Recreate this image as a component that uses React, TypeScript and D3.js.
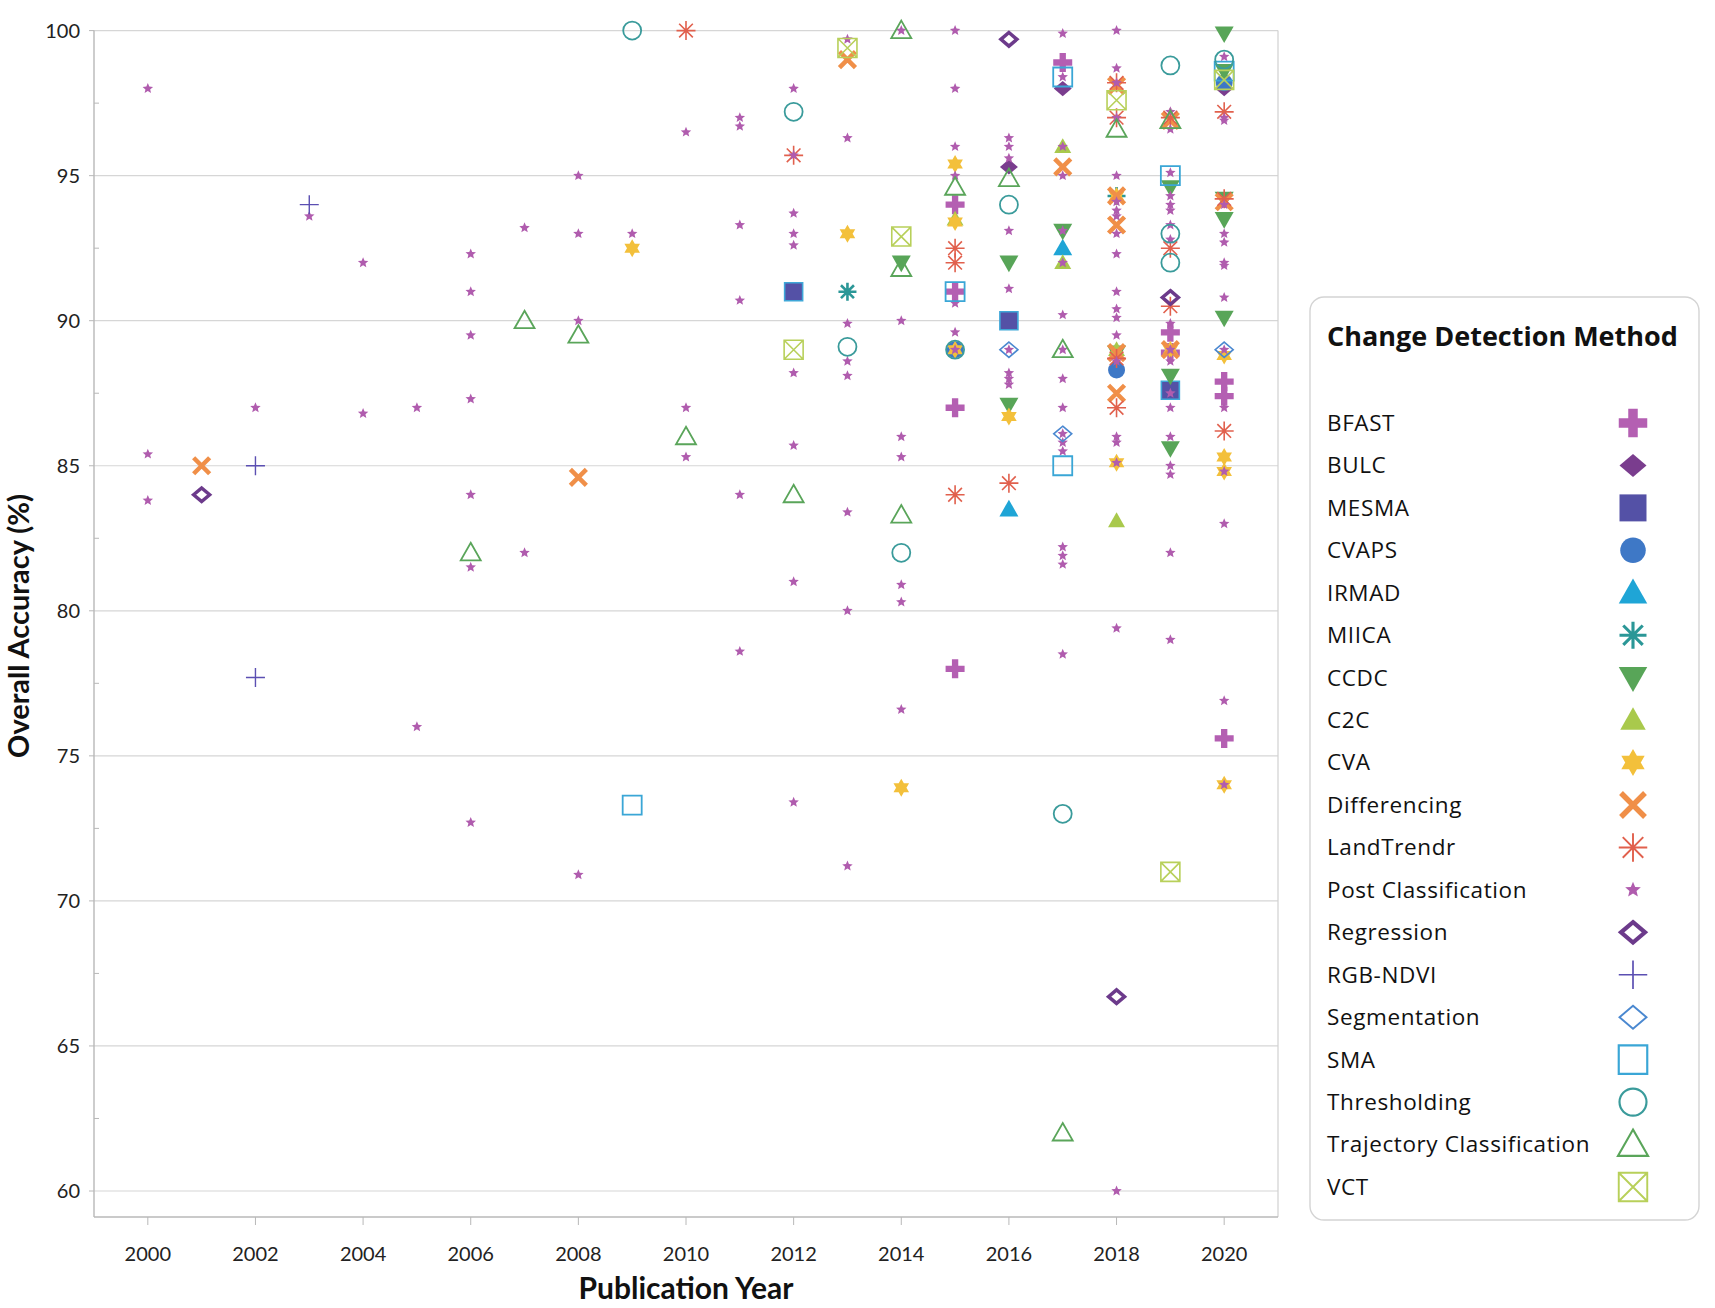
import React from "react";
import * as d3 from "d3";

// legend order (also the draw order, later series sit on top)
const METHODS = [
  "BFAST", "BULC", "MESMA", "CVAPS", "IRMAD", "MIICA", "CCDC", "C2C", "CVA",
  "Differencing", "LandTrendr", "Post Classification", "Regression", "RGB-NDVI",
  "Segmentation", "SMA", "Thresholding", "Trajectory Classification", "VCT",
];

const X_TICKS = [2000, 2002, 2004, 2006, 2008, 2010, 2012, 2014, 2016, 2018, 2020];
const Y_TICKS = [60, 65, 70, 75, 80, 85, 90, 95, 100];
const Y_MINOR = [62.5, 67.5, 72.5, 77.5, 82.5, 87.5, 92.5, 97.5];

// [publication year, overall accuracy %]
const bfast: [number, number][] = [
  [2015, 94.0], [2015, 91.0], [2015, 87.0], [2015, 78.0], [2017, 98.9],
  [2019, 89.6], [2019, 88.9], [2020, 87.9], [2020, 87.4], [2020, 75.6],
];
const bulc: [number, number][] = [[2016, 95.3], [2017, 98.0], [2020, 98.0]];
const mesma: [number, number][] = [[2012, 91.0], [2016, 90.0], [2019, 87.6]];
const cvaps: [number, number][] = [[2015, 89.0], [2018, 88.3], [2020, 98.2]];
const irmad: [number, number][] = [[2016, 83.5], [2017, 92.5]];
const miica: [number, number][] = [[2013, 91.0], [2018, 94.3]];
const ccdc: [number, number][] = [
  [2014, 92.0], [2016, 92.0], [2016, 87.1], [2017, 93.1], [2018, 88.9],
  [2019, 94.6], [2019, 88.1], [2019, 85.6], [2020, 99.9], [2020, 98.6],
  [2020, 94.2], [2020, 93.5], [2020, 90.1],
];
const c2c: [number, number][] = [
  [2015, 93.5], [2017, 96.0], [2017, 92.0], [2018, 89.0], [2018, 83.1],
];
const cva: [number, number][] = [
  [2009, 92.5], [2013, 93.0], [2014, 73.9], [2015, 95.4], [2015, 93.4],
  [2015, 89.0], [2016, 86.7], [2018, 94.3], [2018, 85.1], [2019, 89.0],
  [2020, 88.8], [2020, 85.3], [2020, 84.8], [2020, 74.0],
];
const differencing: [number, number][] = [
  [2001, 85.0], [2008, 84.6], [2013, 99.0], [2017, 95.3], [2018, 98.1],
  [2018, 94.3], [2018, 93.3], [2018, 88.9], [2018, 87.5], [2019, 96.9],
  [2019, 89.0], [2020, 94.1],
];
const landTrendr: [number, number][] = [
  [2010, 100.0], [2012, 95.7], [2015, 92.5], [2015, 92.0], [2015, 84.0],
  [2016, 84.4], [2018, 98.2], [2018, 97.0], [2018, 88.7], [2018, 87.0],
  [2019, 97.0], [2019, 92.5], [2019, 90.5], [2020, 97.2], [2020, 94.2],
  [2020, 86.2],
];
const postClassification: [number, number][] = [
  [2000, 98.0], [2000, 85.4], [2000, 83.8],
  [2002, 87.0], [2003, 93.6], [2004, 92.0], [2004, 86.8], [2005, 87.0], [2005, 76.0],
  [2006, 92.3], [2006, 91.0], [2006, 89.5], [2006, 87.3], [2006, 84.0], [2006, 81.5], [2006, 72.7],
  [2007, 93.2], [2007, 82.0],
  [2008, 95.0], [2008, 93.0], [2008, 90.0], [2008, 70.9],
  [2009, 93.0],
  [2010, 96.5], [2010, 87.0], [2010, 85.3],
  [2011, 97.0], [2011, 96.7], [2011, 93.3], [2011, 90.7], [2011, 84.0], [2011, 78.6],
  [2012, 98.0], [2012, 95.7], [2012, 93.7], [2012, 93.0], [2012, 92.6], [2012, 88.2],
  [2012, 85.7], [2012, 81.0], [2012, 73.4],
  [2013, 99.7], [2013, 96.3], [2013, 89.9], [2013, 88.6], [2013, 88.1], [2013, 83.4],
  [2013, 80.0], [2013, 71.2],
  [2014, 100.0], [2014, 90.0], [2014, 86.0], [2014, 85.3], [2014, 80.9], [2014, 80.3], [2014, 76.6],
  [2015, 100.0], [2015, 98.0], [2015, 96.0], [2015, 95.0], [2015, 90.6], [2015, 89.6], [2015, 89.0],
  [2016, 96.3], [2016, 96.0], [2016, 95.6], [2016, 93.1], [2016, 91.1], [2016, 89.0],
  [2016, 88.2], [2016, 88.0], [2016, 87.8],
  [2017, 99.9], [2017, 98.4], [2017, 96.0], [2017, 95.0], [2017, 93.1], [2017, 92.0],
  [2017, 90.2], [2017, 89.0], [2017, 88.0], [2017, 87.0], [2017, 86.1], [2017, 85.8],
  [2017, 85.5], [2017, 82.2], [2017, 81.9], [2017, 81.6], [2017, 78.5],
  [2018, 100.0], [2018, 98.7], [2018, 98.2], [2018, 97.0], [2018, 95.0], [2018, 94.1],
  [2018, 93.8], [2018, 93.6], [2018, 93.0], [2018, 92.3], [2018, 91.0], [2018, 90.4],
  [2018, 90.1], [2018, 89.5], [2018, 88.6], [2018, 86.0], [2018, 85.8], [2018, 85.1],
  [2018, 79.4], [2018, 60.0],
  [2019, 97.2], [2019, 96.6], [2019, 95.1], [2019, 94.3], [2019, 94.0], [2019, 93.8],
  [2019, 93.3], [2019, 92.8], [2019, 89.9], [2019, 89.0], [2019, 88.6], [2019, 87.5],
  [2019, 87.0], [2019, 86.0], [2019, 85.0], [2019, 84.7], [2019, 82.0], [2019, 79.0],
  [2020, 99.1], [2020, 97.0], [2020, 96.9], [2020, 94.0], [2020, 93.0], [2020, 92.7],
  [2020, 92.0], [2020, 91.9], [2020, 90.8], [2020, 89.0], [2020, 87.0], [2020, 84.8],
  [2020, 83.0], [2020, 76.9], [2020, 74.0],
];
const regression: [number, number][] = [
  [2001, 84.0], [2016, 99.7], [2018, 66.7], [2019, 90.8],
];
const rgbNdvi: [number, number][] = [[2002, 85.0], [2002, 77.7], [2003, 94.0]];
const segmentation: [number, number][] = [[2016, 89.0], [2017, 86.1], [2020, 89.0]];
const sma: [number, number][] = [
  [2009, 73.3], [2015, 91.0], [2017, 98.4], [2017, 85.0], [2019, 95.0], [2020, 98.6],
];
const thresholding: [number, number][] = [
  [2009, 100.0], [2012, 97.2], [2013, 89.1], [2014, 82.0], [2015, 89.0], [2016, 94.0],
  [2017, 73.0], [2019, 98.8], [2019, 93.0], [2019, 92.0], [2020, 99.0],
];
const trajectory: [number, number][] = [
  [2006, 82.0], [2007, 90.0], [2008, 89.5], [2010, 86.0], [2012, 84.0], [2014, 100.0],
  [2014, 91.8], [2014, 83.3], [2015, 94.6], [2016, 94.9], [2017, 89.0], [2017, 62.0],
  [2018, 96.6], [2019, 96.9],
];
const vct: [number, number][] = [
  [2012, 89.0], [2013, 99.4], [2014, 92.9], [2018, 97.6], [2019, 71.0], [2020, 98.3],
];

const SERIES_DATA = [
  bfast, bulc, mesma, cvaps, irmad, miica, ccdc, c2c, cva, differencing, landTrendr,
  postClassification, regression, rgbNdvi, segmentation, sma, thresholding, trajectory, vct,
];

type Style = { kind: string; color: string; s: number; sw?: number; edge?: string };

const STYLES: Style[] = [
  { kind: "plusFill", color: "#b45fb2", s: 9.5 },
  { kind: "diamondFill", color: "#7a3d8e", s: 9 },
  { kind: "squareFill", color: "#5451a6", s: 9, edge: "#3fa7d8" },
  { kind: "circleFill", color: "#3e78c6", s: 8.5 },
  { kind: "triUpFill", color: "#1fa5d6", s: 9.5 },
  { kind: "asterisk", color: "#2b9797", s: 9, sw: 2.6 },
  { kind: "triDownFill", color: "#58a558", s: 9.5 },
  { kind: "triUpFill", color: "#a9c94c", s: 8.5 },
  { kind: "star6", color: "#f3c03b", s: 9 },
  { kind: "xThick", color: "#f08f48", s: 8, sw: 4.5 },
  { kind: "asterisk", color: "#e1604d", s: 9.5, sw: 1.6 },
  { kind: "star5", color: "#b05cae", s: 5.5 },
  { kind: "diamondStroke", color: "#6c3a8b", s: 8, sw: 3.5 },
  { kind: "plusThin", color: "#5b4fb2", s: 9.5, sw: 1.4 },
  { kind: "diamondStroke", color: "#4a88d0", s: 9, sw: 1.6 },
  { kind: "squareStroke", color: "#3aa6d6", s: 9.5, sw: 1.8 },
  { kind: "circleStroke", color: "#3a9b9b", s: 9, sw: 1.8 },
  { kind: "triUpStroke", color: "#5aa55a", s: 10, sw: 1.8 },
  { kind: "squareX", color: "#b8d05a", s: 9.5, sw: 1.6 },
];

function markerPath(kind: string, s: number): string {
  if (kind === "plusFill") {
    const a = s / 3;
    return `M${-a},${-s}H${a}V${-a}H${s}V${a}H${a}V${s}H${-a}V${a}H${-s}V${-a}H${-a}Z`;
  }
  if (kind === "plusThin") return `M${-s},0H${s}M0,${-s}V${s}`;
  if (kind.startsWith("diamond")) return `M0,${-s * 0.85}L${s},0L0,${s * 0.85}L${-s},0Z`;
  if (kind === "squareFill" || kind === "squareStroke") return `M${-s},${-s}H${s}V${s}H${-s}Z`;
  if (kind === "squareX")
    return `M${-s},${-s}H${s}V${s}H${-s}ZM${-s},${-s}L${s},${s}M${-s},${s}L${s},${-s}`;
  if (kind.startsWith("circle")) return `M${s},0A${s},${s},0,1,1,${-s},0A${s},${s},0,1,1,${s},0Z`;
  if (kind.startsWith("triUp")) return `M0,${-s}L${s},${s * 0.75}L${-s},${s * 0.75}Z`;
  if (kind === "triDownFill") return `M0,${s}L${s},${-s * 0.75}L${-s},${-s * 0.75}Z`;
  if (kind === "xThick") return `M${-s},${-s}L${s},${s}M${-s},${s}L${s},${-s}`;
  if (kind === "asterisk") {
    const d = s * 0.72;
    return `M${-s},0H${s}M0,${-s}V${s}M${-d},${-d}L${d},${d}M${-d},${d}L${d},${-d}`;
  }
  if (kind === "star6") {
    const tri = (start: number) =>
      d3.range(3).map((i) => {
        const a = ((start + i * 120) * Math.PI) / 180;
        return `${i === 0 ? "M" : "L"}${s * Math.cos(a)},${s * Math.sin(a)}`;
      }).join("") + "Z";
    return tri(-90) + tri(90);
  }
  // star5
  return d3.range(10).map((i) => {
    const r = i % 2 === 0 ? s : s * 0.45;
    const a = -Math.PI / 2 + (i * Math.PI) / 5;
    return `${i === 0 ? "M" : "L"}${r * Math.cos(a)},${r * Math.sin(a)}`;
  }).join("") + "Z";
}

const STROKED = ["plusThin", "diamondStroke", "squareStroke", "squareX", "circleStroke",
  "triUpStroke", "xThick", "asterisk"];

function Marker({ st, x, y, k = 1, legend = false }: { st: Style; x: number; y: number; k?: number; legend?: boolean }) {
  const d = markerPath(st.kind, st.s * k);
  const stroked = STROKED.includes(st.kind);
  return (
    <path
      d={d}
      transform={`translate(${x},${y})`}
      fill={stroked ? "none" : st.color}
      stroke={stroked ? st.color : !legend && st.edge ? st.edge : "none"}
      strokeWidth={stroked ? (st.sw ?? 1.5) * (k > 1 ? 1.2 : 1) : 1.6}
    />
  );
}

const W = 1715;
const H = 1308;
const FONT = "Lato, 'Open Sans', sans-serif";
const LEGEND_FONT = "'Open Sans', Lato, sans-serif";

export default function App() {
  const plot = { left: 94, right: 1278, top: 30.6, bottom: 1217 };
  const x = d3.scaleLinear().domain([1999, 2021]).range([plot.left, plot.right]);
  const y = d3.scaleLinear().domain([60, 100]).range([1191, 30.6]);

  const legend = { x: 1310, y: 297, w: 389, h: 923 };
  const rowY = d3.scaleLinear().domain([0, METHODS.length - 1]).range([423, 1187]);

  return (
    <svg width={W} height={H} style={{ position: "absolute", left: 0, top: 0, background: "#fff" }}
      fontFamily={FONT}>
      {/* gridlines */}
      {Y_TICKS.map((t) => (
        <line key={t} x1={plot.left} x2={plot.right} y1={y(t)} y2={y(t)} stroke="#d6d6d6" strokeWidth={1.2} />
      ))}
      {/* frame */}
      <line x1={plot.right} x2={plot.right} y1={plot.top} y2={plot.bottom} stroke="#d0d0d0" strokeWidth={1.2} />
      <line x1={plot.left} x2={plot.left} y1={plot.top} y2={plot.bottom} stroke="#b8b8b8" strokeWidth={1.4} />
      <line x1={plot.left} x2={plot.right} y1={plot.bottom} y2={plot.bottom} stroke="#b8b8b8" strokeWidth={1.4} />
      {Y_MINOR.map((t) => (
        <line key={t} x1={plot.left} x2={plot.left + 5} y1={y(t)} y2={y(t)} stroke="#b8b8b8" />
      ))}
      {Y_TICKS.map((t) => (
        <g key={t}>
          <line x1={plot.left - 5} x2={plot.left} y1={y(t)} y2={y(t)} stroke="#b8b8b8" />
          <text x={80} y={y(t)} dy="0.35em" textAnchor="end" fontSize={20} fill="#222">{t}</text>
        </g>
      ))}
      {X_TICKS.map((t) => (
        <g key={t}>
          <line x1={x(t)} x2={x(t)} y1={plot.bottom} y2={plot.bottom + 8} stroke="#b8b8b8" />
          <text x={x(t)} y={1261} textAnchor="middle" fontSize={20} fill="#222">{t}</text>
        </g>
      ))}
      <text x={(plot.left + plot.right) / 2} y={1299} textAnchor="middle" fontSize={30} fontWeight="bold" fill="#111">
        Publication Year
      </text>
      <text transform="translate(29,626) rotate(-90)" textAnchor="middle" fontSize={29} fontWeight="bold" fill="#111">
        Overall Accuracy (%)
      </text>

      {/* points */}
      {SERIES_DATA.map((pts, si) => (
        <g key={METHODS[si]}>
          {pts.map(([yr, v], i) => (
            <Marker key={i} st={STYLES[si]} x={x(yr)} y={y(v)} />
          ))}
        </g>
      ))}

      {/* legend */}
      <rect x={legend.x} y={legend.y} width={legend.w} height={legend.h} rx={14} fill="#fff" stroke="#d4d4d4" strokeWidth={1.4} />
      <text x={1327} y={346} fontSize={27} fontWeight="bold" fill="#111" fontFamily={LEGEND_FONT}>
        Change Detection Method
      </text>
      {METHODS.map((m, i) => (
        <g key={m}>
          <text x={1327} y={rowY(i)} dy="0.35em" fontSize={22.5} letterSpacing={0.6} fill="#111"
            fontFamily={LEGEND_FONT}>{m}</text>
          <Marker st={STYLES[i]} x={1633} y={rowY(i)} k={1.5} legend />
        </g>
      ))}
    </svg>
  );
}
